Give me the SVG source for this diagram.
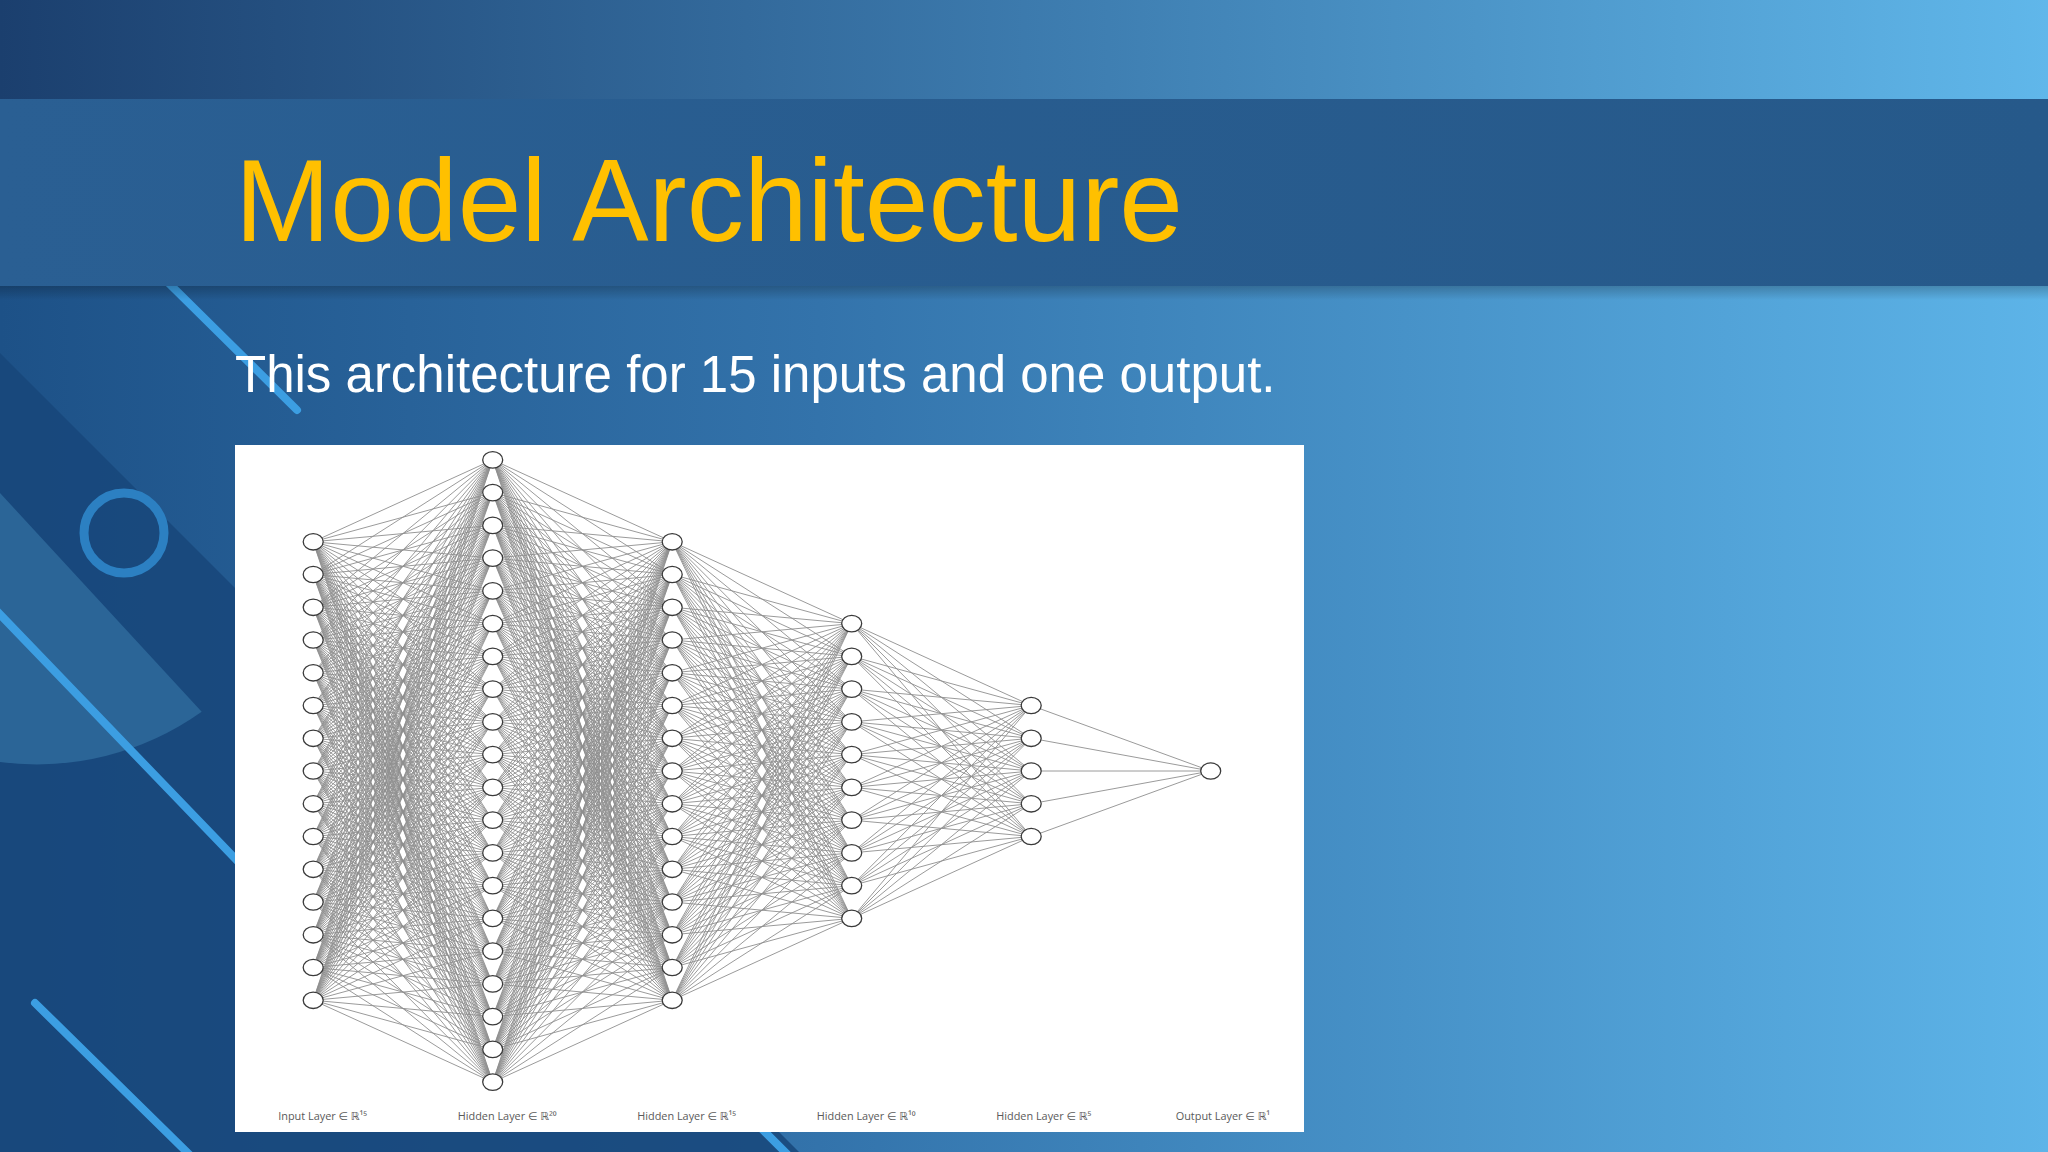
<svg xmlns="http://www.w3.org/2000/svg" width="2048" height="1152" viewBox="0 0 2048 1152">
<defs>
<linearGradient id="gBg" x1="0" y1="0" x2="1" y2="0">
<stop offset="0" stop-color="#1d5187"/><stop offset="0.4" stop-color="#3373ab"/><stop offset="1" stop-color="#5db4e8"/>
</linearGradient>
<linearGradient id="gTop" x1="0" y1="0" x2="1" y2="0">
<stop offset="0" stop-color="#1b3f6e"/><stop offset="0.5" stop-color="#3c7aad"/><stop offset="1" stop-color="#60b7ea"/>
</linearGradient>
<linearGradient id="gBand" x1="0" y1="0" x2="1" y2="0">
<stop offset="0" stop-color="#2a5f93"/><stop offset="1" stop-color="#26598a"/>
</linearGradient>
<linearGradient id="gShadow" x1="0" y1="0" x2="0" y2="1">
<stop offset="0" stop-color="#000" stop-opacity="0.22"/><stop offset="1" stop-color="#000" stop-opacity="0"/>
</linearGradient>
</defs>
<style>
.title{font-family:"Liberation Sans",Arial,sans-serif;font-size:116px;fill:#ffc000}
.sub{font-family:"Liberation Sans",Arial,sans-serif;font-size:51px;fill:#ffffff}
.lbl{font-family:"Open Sans","DejaVu Sans",sans-serif;font-size:10.9px;fill:#5a5a5a}
.deco{stroke:#3c9ee2;stroke-width:8;stroke-linecap:round;fill:none}
#nodes ellipse{fill:#ffffff;stroke:#3a3a3a;stroke-width:1.3}
</style>

<g id="background">
<rect x="0" y="0" width="2048" height="1152" fill="url(#gBg)"/>
<polygon points="0,353 799,1152 0,1152" fill="#17467a" opacity="0.85"/>
<path d="M0 493 L201.7 711.7 A285 285 0 0 1 0 762 Z" fill="#2b6597"/>
<circle cx="124" cy="533" r="40" fill="none" stroke="#2c80c2" stroke-width="9"/>
<line class="deco" x1="120" y1="235" x2="297" y2="410"/>
<line class="deco" x1="-10" y1="604" x2="300" y2="926"/>
<line class="deco" x1="35" y1="1003" x2="200" y2="1165"/>
<line class="deco" x1="700" y1="1067" x2="820" y2="1187"/>
<rect x="0" y="0" width="2048" height="99" fill="url(#gTop)"/>
<rect x="0" y="99" width="2048" height="187" fill="url(#gBand)"/>
<rect x="0" y="286" width="2048" height="14" fill="url(#gShadow)"/>
</g>

<text class="title" x="235" y="241" textLength="948" lengthAdjust="spacingAndGlyphs">Model Architecture</text>
<text class="sub" x="235" y="392">This architecture for 15 inputs and one output.</text>

<rect id="figure" x="235" y="445" width="1069" height="687" fill="#ffffff"/>

<g id="connectors" fill="none" stroke="#8f8f8f" stroke-width="0.055" transform="translate(313.2 771) scale(16.318 16.375)">
<path id="e-input-h1" d="M0-14 11-19M0-14 11-17M0-14 11-15M0-14 11-13M0-14 11-11M0-14 11-9M0-14 11-7M0-14 11-5M0-14 11-3M0-14 11-1M0-14 11 1M0-14 11 3M0-14 11 5M0-14 11 7M0-14 11 9M0-14 11 11M0-14 11 13M0-14 11 15M0-14 11 17M0-14 11 19
M0-12 11-19M0-12 11-17M0-12 11-15M0-12 11-13M0-12 11-11M0-12 11-9M0-12 11-7M0-12 11-5M0-12 11-3M0-12 11-1M0-12 11 1M0-12 11 3M0-12 11 5M0-12 11 7M0-12 11 9M0-12 11 11M0-12 11 13M0-12 11 15M0-12 11 17M0-12 11 19
M0-10 11-19M0-10 11-17M0-10 11-15M0-10 11-13M0-10 11-11M0-10 11-9M0-10 11-7M0-10 11-5M0-10 11-3M0-10 11-1M0-10 11 1M0-10 11 3M0-10 11 5M0-10 11 7M0-10 11 9M0-10 11 11M0-10 11 13M0-10 11 15M0-10 11 17M0-10 11 19
M0-8 11-19M0-8 11-17M0-8 11-15M0-8 11-13M0-8 11-11M0-8 11-9M0-8 11-7M0-8 11-5M0-8 11-3M0-8 11-1M0-8 11 1M0-8 11 3M0-8 11 5M0-8 11 7M0-8 11 9M0-8 11 11M0-8 11 13M0-8 11 15M0-8 11 17M0-8 11 19
M0-6 11-19M0-6 11-17M0-6 11-15M0-6 11-13M0-6 11-11M0-6 11-9M0-6 11-7M0-6 11-5M0-6 11-3M0-6 11-1M0-6 11 1M0-6 11 3M0-6 11 5M0-6 11 7M0-6 11 9M0-6 11 11M0-6 11 13M0-6 11 15M0-6 11 17M0-6 11 19
M0-4 11-19M0-4 11-17M0-4 11-15M0-4 11-13M0-4 11-11M0-4 11-9M0-4 11-7M0-4 11-5M0-4 11-3M0-4 11-1M0-4 11 1M0-4 11 3M0-4 11 5M0-4 11 7M0-4 11 9M0-4 11 11M0-4 11 13M0-4 11 15M0-4 11 17M0-4 11 19
M0-2 11-19M0-2 11-17M0-2 11-15M0-2 11-13M0-2 11-11M0-2 11-9M0-2 11-7M0-2 11-5M0-2 11-3M0-2 11-1M0-2 11 1M0-2 11 3M0-2 11 5M0-2 11 7M0-2 11 9M0-2 11 11M0-2 11 13M0-2 11 15M0-2 11 17M0-2 11 19
M0 0 11-19M0 0 11-17M0 0 11-15M0 0 11-13M0 0 11-11M0 0 11-9M0 0 11-7M0 0 11-5M0 0 11-3M0 0 11-1M0 0 11 1M0 0 11 3M0 0 11 5M0 0 11 7M0 0 11 9M0 0 11 11M0 0 11 13M0 0 11 15M0 0 11 17M0 0 11 19
M0 2 11-19M0 2 11-17M0 2 11-15M0 2 11-13M0 2 11-11M0 2 11-9M0 2 11-7M0 2 11-5M0 2 11-3M0 2 11-1M0 2 11 1M0 2 11 3M0 2 11 5M0 2 11 7M0 2 11 9M0 2 11 11M0 2 11 13M0 2 11 15M0 2 11 17M0 2 11 19
M0 4 11-19M0 4 11-17M0 4 11-15M0 4 11-13M0 4 11-11M0 4 11-9M0 4 11-7M0 4 11-5M0 4 11-3M0 4 11-1M0 4 11 1M0 4 11 3M0 4 11 5M0 4 11 7M0 4 11 9M0 4 11 11M0 4 11 13M0 4 11 15M0 4 11 17M0 4 11 19
M0 6 11-19M0 6 11-17M0 6 11-15M0 6 11-13M0 6 11-11M0 6 11-9M0 6 11-7M0 6 11-5M0 6 11-3M0 6 11-1M0 6 11 1M0 6 11 3M0 6 11 5M0 6 11 7M0 6 11 9M0 6 11 11M0 6 11 13M0 6 11 15M0 6 11 17M0 6 11 19
M0 8 11-19M0 8 11-17M0 8 11-15M0 8 11-13M0 8 11-11M0 8 11-9M0 8 11-7M0 8 11-5M0 8 11-3M0 8 11-1M0 8 11 1M0 8 11 3M0 8 11 5M0 8 11 7M0 8 11 9M0 8 11 11M0 8 11 13M0 8 11 15M0 8 11 17M0 8 11 19
M0 10 11-19M0 10 11-17M0 10 11-15M0 10 11-13M0 10 11-11M0 10 11-9M0 10 11-7M0 10 11-5M0 10 11-3M0 10 11-1M0 10 11 1M0 10 11 3M0 10 11 5M0 10 11 7M0 10 11 9M0 10 11 11M0 10 11 13M0 10 11 15M0 10 11 17M0 10 11 19
M0 12 11-19M0 12 11-17M0 12 11-15M0 12 11-13M0 12 11-11M0 12 11-9M0 12 11-7M0 12 11-5M0 12 11-3M0 12 11-1M0 12 11 1M0 12 11 3M0 12 11 5M0 12 11 7M0 12 11 9M0 12 11 11M0 12 11 13M0 12 11 15M0 12 11 17M0 12 11 19
M0 14 11-19M0 14 11-17M0 14 11-15M0 14 11-13M0 14 11-11M0 14 11-9M0 14 11-7M0 14 11-5M0 14 11-3M0 14 11-1M0 14 11 1M0 14 11 3M0 14 11 5M0 14 11 7M0 14 11 9M0 14 11 11M0 14 11 13M0 14 11 15M0 14 11 17M0 14 11 19"/>
<path id="e-h1-h2" d="M11-19 22-14M11-19 22-12M11-19 22-10M11-19 22-8M11-19 22-6M11-19 22-4M11-19 22-2M11-19 22 0M11-19 22 2M11-19 22 4M11-19 22 6M11-19 22 8M11-19 22 10M11-19 22 12M11-19 22 14
M11-17 22-14M11-17 22-12M11-17 22-10M11-17 22-8M11-17 22-6M11-17 22-4M11-17 22-2M11-17 22 0M11-17 22 2M11-17 22 4M11-17 22 6M11-17 22 8M11-17 22 10M11-17 22 12M11-17 22 14
M11-15 22-14M11-15 22-12M11-15 22-10M11-15 22-8M11-15 22-6M11-15 22-4M11-15 22-2M11-15 22 0M11-15 22 2M11-15 22 4M11-15 22 6M11-15 22 8M11-15 22 10M11-15 22 12M11-15 22 14
M11-13 22-14M11-13 22-12M11-13 22-10M11-13 22-8M11-13 22-6M11-13 22-4M11-13 22-2M11-13 22 0M11-13 22 2M11-13 22 4M11-13 22 6M11-13 22 8M11-13 22 10M11-13 22 12M11-13 22 14
M11-11 22-14M11-11 22-12M11-11 22-10M11-11 22-8M11-11 22-6M11-11 22-4M11-11 22-2M11-11 22 0M11-11 22 2M11-11 22 4M11-11 22 6M11-11 22 8M11-11 22 10M11-11 22 12M11-11 22 14
M11-9 22-14M11-9 22-12M11-9 22-10M11-9 22-8M11-9 22-6M11-9 22-4M11-9 22-2M11-9 22 0M11-9 22 2M11-9 22 4M11-9 22 6M11-9 22 8M11-9 22 10M11-9 22 12M11-9 22 14
M11-7 22-14M11-7 22-12M11-7 22-10M11-7 22-8M11-7 22-6M11-7 22-4M11-7 22-2M11-7 22 0M11-7 22 2M11-7 22 4M11-7 22 6M11-7 22 8M11-7 22 10M11-7 22 12M11-7 22 14
M11-5 22-14M11-5 22-12M11-5 22-10M11-5 22-8M11-5 22-6M11-5 22-4M11-5 22-2M11-5 22 0M11-5 22 2M11-5 22 4M11-5 22 6M11-5 22 8M11-5 22 10M11-5 22 12M11-5 22 14
M11-3 22-14M11-3 22-12M11-3 22-10M11-3 22-8M11-3 22-6M11-3 22-4M11-3 22-2M11-3 22 0M11-3 22 2M11-3 22 4M11-3 22 6M11-3 22 8M11-3 22 10M11-3 22 12M11-3 22 14
M11-1 22-14M11-1 22-12M11-1 22-10M11-1 22-8M11-1 22-6M11-1 22-4M11-1 22-2M11-1 22 0M11-1 22 2M11-1 22 4M11-1 22 6M11-1 22 8M11-1 22 10M11-1 22 12M11-1 22 14
M11 1 22-14M11 1 22-12M11 1 22-10M11 1 22-8M11 1 22-6M11 1 22-4M11 1 22-2M11 1 22 0M11 1 22 2M11 1 22 4M11 1 22 6M11 1 22 8M11 1 22 10M11 1 22 12M11 1 22 14
M11 3 22-14M11 3 22-12M11 3 22-10M11 3 22-8M11 3 22-6M11 3 22-4M11 3 22-2M11 3 22 0M11 3 22 2M11 3 22 4M11 3 22 6M11 3 22 8M11 3 22 10M11 3 22 12M11 3 22 14
M11 5 22-14M11 5 22-12M11 5 22-10M11 5 22-8M11 5 22-6M11 5 22-4M11 5 22-2M11 5 22 0M11 5 22 2M11 5 22 4M11 5 22 6M11 5 22 8M11 5 22 10M11 5 22 12M11 5 22 14
M11 7 22-14M11 7 22-12M11 7 22-10M11 7 22-8M11 7 22-6M11 7 22-4M11 7 22-2M11 7 22 0M11 7 22 2M11 7 22 4M11 7 22 6M11 7 22 8M11 7 22 10M11 7 22 12M11 7 22 14
M11 9 22-14M11 9 22-12M11 9 22-10M11 9 22-8M11 9 22-6M11 9 22-4M11 9 22-2M11 9 22 0M11 9 22 2M11 9 22 4M11 9 22 6M11 9 22 8M11 9 22 10M11 9 22 12M11 9 22 14
M11 11 22-14M11 11 22-12M11 11 22-10M11 11 22-8M11 11 22-6M11 11 22-4M11 11 22-2M11 11 22 0M11 11 22 2M11 11 22 4M11 11 22 6M11 11 22 8M11 11 22 10M11 11 22 12M11 11 22 14
M11 13 22-14M11 13 22-12M11 13 22-10M11 13 22-8M11 13 22-6M11 13 22-4M11 13 22-2M11 13 22 0M11 13 22 2M11 13 22 4M11 13 22 6M11 13 22 8M11 13 22 10M11 13 22 12M11 13 22 14
M11 15 22-14M11 15 22-12M11 15 22-10M11 15 22-8M11 15 22-6M11 15 22-4M11 15 22-2M11 15 22 0M11 15 22 2M11 15 22 4M11 15 22 6M11 15 22 8M11 15 22 10M11 15 22 12M11 15 22 14
M11 17 22-14M11 17 22-12M11 17 22-10M11 17 22-8M11 17 22-6M11 17 22-4M11 17 22-2M11 17 22 0M11 17 22 2M11 17 22 4M11 17 22 6M11 17 22 8M11 17 22 10M11 17 22 12M11 17 22 14
M11 19 22-14M11 19 22-12M11 19 22-10M11 19 22-8M11 19 22-6M11 19 22-4M11 19 22-2M11 19 22 0M11 19 22 2M11 19 22 4M11 19 22 6M11 19 22 8M11 19 22 10M11 19 22 12M11 19 22 14"/>
<path id="e-h2-h3" d="M22-14 33-9M22-14 33-7M22-14 33-5M22-14 33-3M22-14 33-1M22-14 33 1M22-14 33 3M22-14 33 5M22-14 33 7M22-14 33 9
M22-12 33-9M22-12 33-7M22-12 33-5M22-12 33-3M22-12 33-1M22-12 33 1M22-12 33 3M22-12 33 5M22-12 33 7M22-12 33 9
M22-10 33-9M22-10 33-7M22-10 33-5M22-10 33-3M22-10 33-1M22-10 33 1M22-10 33 3M22-10 33 5M22-10 33 7M22-10 33 9
M22-8 33-9M22-8 33-7M22-8 33-5M22-8 33-3M22-8 33-1M22-8 33 1M22-8 33 3M22-8 33 5M22-8 33 7M22-8 33 9
M22-6 33-9M22-6 33-7M22-6 33-5M22-6 33-3M22-6 33-1M22-6 33 1M22-6 33 3M22-6 33 5M22-6 33 7M22-6 33 9
M22-4 33-9M22-4 33-7M22-4 33-5M22-4 33-3M22-4 33-1M22-4 33 1M22-4 33 3M22-4 33 5M22-4 33 7M22-4 33 9
M22-2 33-9M22-2 33-7M22-2 33-5M22-2 33-3M22-2 33-1M22-2 33 1M22-2 33 3M22-2 33 5M22-2 33 7M22-2 33 9
M22 0 33-9M22 0 33-7M22 0 33-5M22 0 33-3M22 0 33-1M22 0 33 1M22 0 33 3M22 0 33 5M22 0 33 7M22 0 33 9
M22 2 33-9M22 2 33-7M22 2 33-5M22 2 33-3M22 2 33-1M22 2 33 1M22 2 33 3M22 2 33 5M22 2 33 7M22 2 33 9
M22 4 33-9M22 4 33-7M22 4 33-5M22 4 33-3M22 4 33-1M22 4 33 1M22 4 33 3M22 4 33 5M22 4 33 7M22 4 33 9
M22 6 33-9M22 6 33-7M22 6 33-5M22 6 33-3M22 6 33-1M22 6 33 1M22 6 33 3M22 6 33 5M22 6 33 7M22 6 33 9
M22 8 33-9M22 8 33-7M22 8 33-5M22 8 33-3M22 8 33-1M22 8 33 1M22 8 33 3M22 8 33 5M22 8 33 7M22 8 33 9
M22 10 33-9M22 10 33-7M22 10 33-5M22 10 33-3M22 10 33-1M22 10 33 1M22 10 33 3M22 10 33 5M22 10 33 7M22 10 33 9
M22 12 33-9M22 12 33-7M22 12 33-5M22 12 33-3M22 12 33-1M22 12 33 1M22 12 33 3M22 12 33 5M22 12 33 7M22 12 33 9
M22 14 33-9M22 14 33-7M22 14 33-5M22 14 33-3M22 14 33-1M22 14 33 1M22 14 33 3M22 14 33 5M22 14 33 7M22 14 33 9"/>
<path id="e-h3-h4" d="M33-9 44-4M33-9 44-2M33-9 44 0M33-9 44 2M33-9 44 4
M33-7 44-4M33-7 44-2M33-7 44 0M33-7 44 2M33-7 44 4
M33-5 44-4M33-5 44-2M33-5 44 0M33-5 44 2M33-5 44 4
M33-3 44-4M33-3 44-2M33-3 44 0M33-3 44 2M33-3 44 4
M33-1 44-4M33-1 44-2M33-1 44 0M33-1 44 2M33-1 44 4
M33 1 44-4M33 1 44-2M33 1 44 0M33 1 44 2M33 1 44 4
M33 3 44-4M33 3 44-2M33 3 44 0M33 3 44 2M33 3 44 4
M33 5 44-4M33 5 44-2M33 5 44 0M33 5 44 2M33 5 44 4
M33 7 44-4M33 7 44-2M33 7 44 0M33 7 44 2M33 7 44 4
M33 9 44-4M33 9 44-2M33 9 44 0M33 9 44 2M33 9 44 4"/>
<path id="e-h4-out" d="M44-4 55 0M44-2 55 0M44 0 55 0M44 2 55 0M44 4 55 0"/>
</g>

<g id="nodes">
<g id="in1"><ellipse cx="313.2" cy="541.8" rx="10" ry="8.2"/></g>
<g id="in2"><ellipse cx="313.2" cy="574.5" rx="10" ry="8.2"/></g>
<g id="in3"><ellipse cx="313.2" cy="607.3" rx="10" ry="8.2"/></g>
<g id="in4"><ellipse cx="313.2" cy="640" rx="10" ry="8.2"/></g>
<g id="in5"><ellipse cx="313.2" cy="672.8" rx="10" ry="8.2"/></g>
<g id="in6"><ellipse cx="313.2" cy="705.5" rx="10" ry="8.2"/></g>
<g id="in7"><ellipse cx="313.2" cy="738.3" rx="10" ry="8.2"/></g>
<g id="in8"><ellipse cx="313.2" cy="771" rx="10" ry="8.2"/></g>
<g id="in9"><ellipse cx="313.2" cy="803.8" rx="10" ry="8.2"/></g>
<g id="in10"><ellipse cx="313.2" cy="836.5" rx="10" ry="8.2"/></g>
<g id="in11"><ellipse cx="313.2" cy="869.3" rx="10" ry="8.2"/></g>
<g id="in12"><ellipse cx="313.2" cy="902" rx="10" ry="8.2"/></g>
<g id="in13"><ellipse cx="313.2" cy="934.8" rx="10" ry="8.2"/></g>
<g id="in14"><ellipse cx="313.2" cy="967.5" rx="10" ry="8.2"/></g>
<g id="in15"><ellipse cx="313.2" cy="1000.3" rx="10" ry="8.2"/></g>

<g id="h1-1"><ellipse cx="492.7" cy="459.9" rx="10" ry="8.2"/></g>
<g id="h1-2"><ellipse cx="492.7" cy="492.6" rx="10" ry="8.2"/></g>
<g id="h1-3"><ellipse cx="492.7" cy="525.4" rx="10" ry="8.2"/></g>
<g id="h1-4"><ellipse cx="492.7" cy="558.1" rx="10" ry="8.2"/></g>
<g id="h1-5"><ellipse cx="492.7" cy="590.9" rx="10" ry="8.2"/></g>
<g id="h1-6"><ellipse cx="492.7" cy="623.6" rx="10" ry="8.2"/></g>
<g id="h1-7"><ellipse cx="492.7" cy="656.4" rx="10" ry="8.2"/></g>
<g id="h1-8"><ellipse cx="492.7" cy="689.1" rx="10" ry="8.2"/></g>
<g id="h1-9"><ellipse cx="492.7" cy="721.9" rx="10" ry="8.2"/></g>
<g id="h1-10"><ellipse cx="492.7" cy="754.6" rx="10" ry="8.2"/></g>
<g id="h1-11"><ellipse cx="492.7" cy="787.4" rx="10" ry="8.2"/></g>
<g id="h1-12"><ellipse cx="492.7" cy="820.1" rx="10" ry="8.2"/></g>
<g id="h1-13"><ellipse cx="492.7" cy="852.9" rx="10" ry="8.2"/></g>
<g id="h1-14"><ellipse cx="492.7" cy="885.6" rx="10" ry="8.2"/></g>
<g id="h1-15"><ellipse cx="492.7" cy="918.4" rx="10" ry="8.2"/></g>
<g id="h1-16"><ellipse cx="492.7" cy="951.1" rx="10" ry="8.2"/></g>
<g id="h1-17"><ellipse cx="492.7" cy="983.9" rx="10" ry="8.2"/></g>
<g id="h1-18"><ellipse cx="492.7" cy="1016.6" rx="10" ry="8.2"/></g>
<g id="h1-19"><ellipse cx="492.7" cy="1049.4" rx="10" ry="8.2"/></g>
<g id="h1-20"><ellipse cx="492.7" cy="1082.1" rx="10" ry="8.2"/></g>

<g id="h2-1"><ellipse cx="672.2" cy="541.8" rx="10" ry="8.2"/></g>
<g id="h2-2"><ellipse cx="672.2" cy="574.5" rx="10" ry="8.2"/></g>
<g id="h2-3"><ellipse cx="672.2" cy="607.3" rx="10" ry="8.2"/></g>
<g id="h2-4"><ellipse cx="672.2" cy="640" rx="10" ry="8.2"/></g>
<g id="h2-5"><ellipse cx="672.2" cy="672.8" rx="10" ry="8.2"/></g>
<g id="h2-6"><ellipse cx="672.2" cy="705.5" rx="10" ry="8.2"/></g>
<g id="h2-7"><ellipse cx="672.2" cy="738.3" rx="10" ry="8.2"/></g>
<g id="h2-8"><ellipse cx="672.2" cy="771" rx="10" ry="8.2"/></g>
<g id="h2-9"><ellipse cx="672.2" cy="803.8" rx="10" ry="8.2"/></g>
<g id="h2-10"><ellipse cx="672.2" cy="836.5" rx="10" ry="8.2"/></g>
<g id="h2-11"><ellipse cx="672.2" cy="869.3" rx="10" ry="8.2"/></g>
<g id="h2-12"><ellipse cx="672.2" cy="902" rx="10" ry="8.2"/></g>
<g id="h2-13"><ellipse cx="672.2" cy="934.8" rx="10" ry="8.2"/></g>
<g id="h2-14"><ellipse cx="672.2" cy="967.5" rx="10" ry="8.2"/></g>
<g id="h2-15"><ellipse cx="672.2" cy="1000.3" rx="10" ry="8.2"/></g>

<g id="h3-1"><ellipse cx="851.7" cy="623.6" rx="10" ry="8.2"/></g>
<g id="h3-2"><ellipse cx="851.7" cy="656.4" rx="10" ry="8.2"/></g>
<g id="h3-3"><ellipse cx="851.7" cy="689.1" rx="10" ry="8.2"/></g>
<g id="h3-4"><ellipse cx="851.7" cy="721.9" rx="10" ry="8.2"/></g>
<g id="h3-5"><ellipse cx="851.7" cy="754.6" rx="10" ry="8.2"/></g>
<g id="h3-6"><ellipse cx="851.7" cy="787.4" rx="10" ry="8.2"/></g>
<g id="h3-7"><ellipse cx="851.7" cy="820.1" rx="10" ry="8.2"/></g>
<g id="h3-8"><ellipse cx="851.7" cy="852.9" rx="10" ry="8.2"/></g>
<g id="h3-9"><ellipse cx="851.7" cy="885.6" rx="10" ry="8.2"/></g>
<g id="h3-10"><ellipse cx="851.7" cy="918.4" rx="10" ry="8.2"/></g>

<g id="h4-1"><ellipse cx="1031.2" cy="705.5" rx="10" ry="8.2"/></g>
<g id="h4-2"><ellipse cx="1031.2" cy="738.3" rx="10" ry="8.2"/></g>
<g id="h4-3"><ellipse cx="1031.2" cy="771" rx="10" ry="8.2"/></g>
<g id="h4-4"><ellipse cx="1031.2" cy="803.8" rx="10" ry="8.2"/></g>
<g id="h4-5"><ellipse cx="1031.2" cy="836.5" rx="10" ry="8.2"/></g>

<g id="out1"><ellipse cx="1210.7" cy="771" rx="10" ry="8.2"/></g>
</g>

<g id="layer-labels">
<text class="lbl" x="278.2" y="1120">Input Layer ∈ ℝ¹⁵</text>
<text class="lbl" x="457.7" y="1120">Hidden Layer ∈ ℝ²⁰</text>
<text class="lbl" x="637.2" y="1120">Hidden Layer ∈ ℝ¹⁵</text>
<text class="lbl" x="816.7" y="1120">Hidden Layer ∈ ℝ¹⁰</text>
<text class="lbl" x="996.2" y="1120">Hidden Layer ∈ ℝ⁵</text>
<text class="lbl" x="1175.7" y="1120">Output Layer ∈ ℝ¹</text>
</g>
</svg>
